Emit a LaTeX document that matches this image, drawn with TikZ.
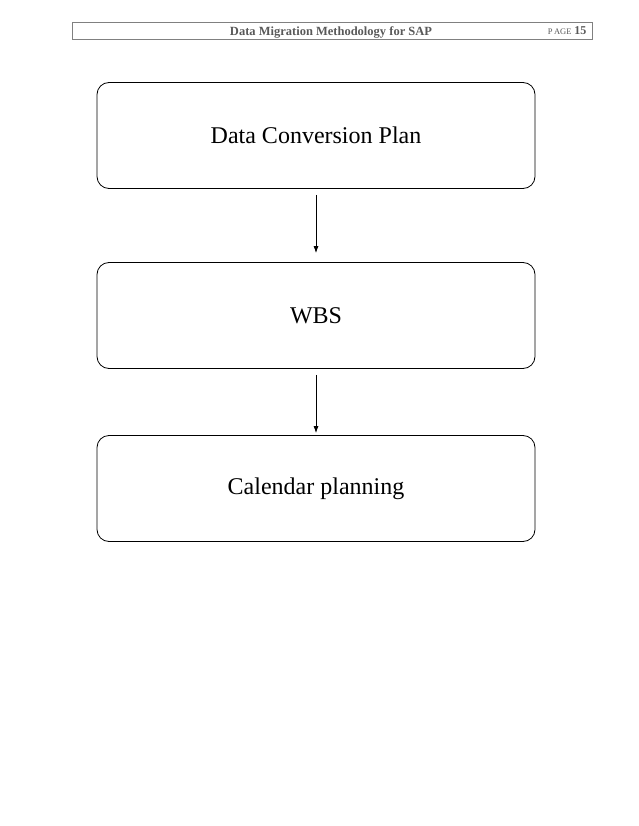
\documentclass[tikz,border=0pt]{standalone}
\usepackage{fontspec}
\usetikzlibrary{arrows.meta}
\setmainfont{Liberation Serif}
\begin{document}
\begin{tikzpicture}[x=1pt,y=-1pt,
  box/.style={draw,rounded corners=12pt,line width=0.8pt,minimum width=438pt,minimum height=106pt,font=\fontsize{24}{28}\selectfont},
  arr/.style={-{Latex[length=7pt,width=5pt]},line width=0.8pt}]
\useasboundingbox (0,0) rectangle (638,826);
\node[draw=gray,line width=0.8pt,minimum width=520pt,minimum height=17pt,anchor=north west,inner sep=0pt] (hdr) at (72,22) {};
\node[text=gray!70!black,font=\bfseries\fontsize{12.5}{14}\selectfont] (title) at (331,32) {Data Migration Methodology for SAP};
\node[text=gray!70!black,font=\fontsize{12}{14}\selectfont,anchor=east] (pg) at (590,31) {{\fontsize{8.5}{10}\selectfont P\,AGE} \textbf{15}};
\node[box] (a) at (316,135.5) {Data Conversion Plan};
\node[box] (b) at (316,315.5) {WBS};
\node[box] (c) at (316,488.5) {Calendar planning};
\draw[arr] ([yshift=-6pt]a.south) -- ([yshift=9pt]b.north);
\draw[arr] ([yshift=-6pt]b.south) -- ([yshift=2pt]c.north);
\end{tikzpicture}
\end{document}
